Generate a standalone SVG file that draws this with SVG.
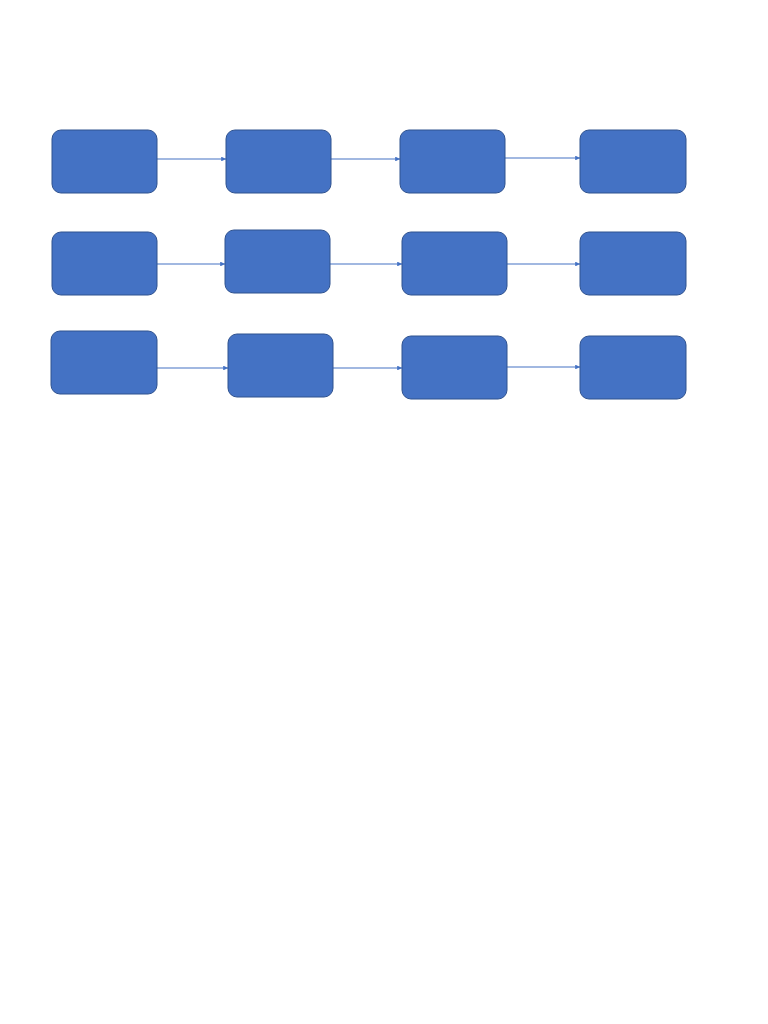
<svg xmlns="http://www.w3.org/2000/svg" width="768" height="1024" viewBox="0 0 768 1024">
<style>
.n{fill:#4472C4;stroke:#2F528F;stroke-width:1}
.c{stroke:#4472C4;stroke-width:1.2;fill:none;marker-end:url(#ah)}
</style>
<defs>
<marker id="ah" viewBox="0 0 10 10" refX="10" refY="5" markerWidth="4" markerHeight="4" orient="auto" markerUnits="strokeWidth">
<path d="M0,0 L10,5 L0,10 z" fill="#4472C4"/>
</marker>
</defs>
<rect width="768" height="1024" fill="#fff"/>
<g id="connectors">
<line class="c" x1="157" y1="159" x2="226" y2="159"/>
<line class="c" x1="331" y1="159" x2="400" y2="159"/>
<line class="c" x1="505" y1="158" x2="580" y2="158"/>
<line class="c" x1="157" y1="264" x2="225" y2="264"/>
<line class="c" x1="330" y1="264" x2="402" y2="264"/>
<line class="c" x1="507" y1="264" x2="580" y2="264"/>
<line class="c" x1="157" y1="368" x2="228" y2="368"/>
<line class="c" x1="333" y1="368" x2="402" y2="368"/>
<line class="c" x1="507" y1="367" x2="580" y2="367"/>
</g>
<g id="n11"><rect class="n" x="52" y="130" width="105" height="63" rx="9"/></g>
<g id="n12"><rect class="n" x="226" y="130" width="105" height="63" rx="9"/></g>
<g id="n13"><rect class="n" x="400" y="130" width="105" height="63" rx="9"/></g>
<g id="n14"><rect class="n" x="580" y="130" width="106" height="63" rx="9"/></g>
<g id="n21"><rect class="n" x="52" y="232" width="105" height="63" rx="9"/></g>
<g id="n22"><rect class="n" x="225" y="230" width="105" height="63" rx="9"/></g>
<g id="n23"><rect class="n" x="402" y="232" width="105" height="63" rx="9"/></g>
<g id="n24"><rect class="n" x="580" y="232" width="106" height="63" rx="9"/></g>
<g id="n31"><rect class="n" x="51" y="331" width="106" height="63" rx="9"/></g>
<g id="n32"><rect class="n" x="228" y="334" width="105" height="63" rx="9"/></g>
<g id="n33"><rect class="n" x="402" y="336" width="105" height="63" rx="9"/></g>
<g id="n34"><rect class="n" x="580" y="336" width="106" height="63" rx="9"/></g>
</svg>
